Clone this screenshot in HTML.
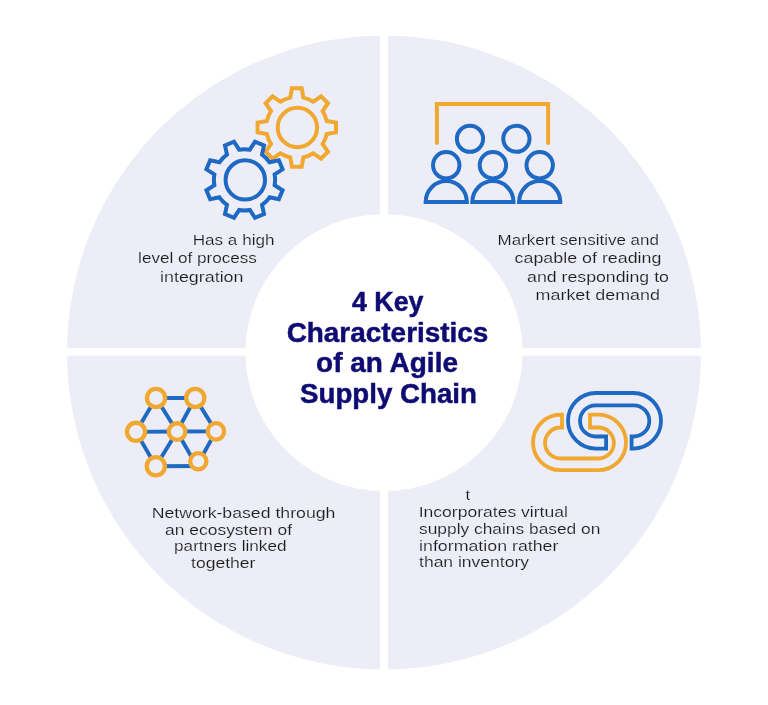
<!DOCTYPE html>
<html lang="en"><head><meta charset="utf-8"><title>4 Key Characteristics of an Agile Supply Chain</title>
<style>html,body{margin:0;padding:0;background:#fff}body{width:768px;height:705px;overflow:hidden}svg{display:block;will-change:transform}text{font-family:"Liberation Sans",sans-serif}.b{font-size:15.5px;fill:#1C1C20;stroke:#ECEDF6;stroke-width:0.16px}.t{font-size:28px;font-weight:700;fill:#0E0C72;stroke:#0E0C72;stroke-width:0.5px}</style>
</head><body>
<svg width="768" height="705" viewBox="0 0 768 705">
<rect width="768" height="705" fill="#fff"/>
<circle cx="384" cy="352.5" r="317" fill="#ECEDF6"/>
<circle cx="384" cy="352.5" r="138.6" fill="#fff"/>
<rect x="380" y="30" width="8" height="645" fill="#fff"/>
<rect x="60" y="348.2" width="648" height="7.5" fill="#fff"/>
<g fill="none" stroke-width="4.0" stroke-linejoin="miter">
<path d="M290.23 97.61 L291.92 88.30 L301.68 88.30 L303.37 97.61 A30.60 30.60 0 0 1 313.29 101.72 L321.06 96.33 L327.97 103.24 L322.58 111.01 A30.60 30.60 0 0 1 326.69 120.93 L336.00 122.62 L336.00 132.38 L326.69 134.07 A30.60 30.60 0 0 1 322.58 143.99 L327.97 151.76 L321.06 158.67 L313.29 153.28 A30.60 30.60 0 0 1 303.37 157.39 L301.68 166.70 L291.92 166.70 L290.23 157.39 A30.60 30.60 0 0 1 280.31 153.28 L272.54 158.67 L265.63 151.76 L271.02 143.99 A30.60 30.60 0 0 1 266.91 134.07 L257.60 132.38 L257.60 122.62 L266.91 120.93 A30.60 30.60 0 0 1 271.02 111.01 L265.63 103.24 L272.54 96.33 L280.31 101.72 A30.60 30.60 0 0 1 290.23 97.61 Z" stroke="#F0A830"/>
<circle cx="297.4" cy="127.5" r="19.7" stroke="#F0A830"/>
<path d="M249.87 149.67 L254.99 141.72 L264.01 145.45 L262.01 154.70 A30.60 30.60 0 0 1 269.60 162.29 L278.85 160.29 L282.58 169.31 L274.63 174.43 A30.60 30.60 0 0 1 274.63 185.17 L282.58 190.29 L278.85 199.31 L269.60 197.31 A30.60 30.60 0 0 1 262.01 204.90 L264.01 214.15 L254.99 217.88 L249.87 209.93 A30.60 30.60 0 0 1 239.13 209.93 L234.01 217.88 L224.99 214.15 L226.99 204.90 A30.60 30.60 0 0 1 219.40 197.31 L210.15 199.31 L206.42 190.29 L214.37 185.17 A30.60 30.60 0 0 1 214.37 174.43 L206.42 169.31 L210.15 160.29 L219.40 162.29 A30.60 30.60 0 0 1 226.99 154.70 L224.99 145.45 L234.01 141.72 L239.13 149.67 A30.60 30.60 0 0 1 249.87 149.67 Z" stroke="#1E69C3"/>
<circle cx="245.3" cy="179.9" r="19.7" stroke="#1E69C3"/>
</g>
<g fill="none" stroke-width="4">
<path d="M436.9 142.9 V104 H548.1 V142.9" stroke="#F0A830" stroke-linecap="round" stroke-linejoin="miter"/>
<g stroke="#1E69C3">
<circle cx="470" cy="138.75" r="13.1"/>
<circle cx="516.4" cy="138.75" r="13.1"/>
<circle cx="446.25" cy="165.2" r="13.2" fill="#ECEDF6"/>
<path d="M425.65 202.1 A20.6 21 0 0 1 466.85 202.1 Z" stroke-linejoin="miter"/>
<circle cx="492.9" cy="165.2" r="13.2" fill="#ECEDF6"/>
<path d="M472.30 202.1 A20.6 21 0 0 1 513.50 202.1 Z" stroke-linejoin="miter"/>
<circle cx="539.7" cy="165.2" r="13.2" fill="#ECEDF6"/>
<path d="M519.10 202.1 A20.6 21 0 0 1 560.30 202.1 Z" stroke-linejoin="miter"/>
</g></g>
<g stroke="#1E69C3" stroke-width="3.9" fill="none">
<line x1="156.05" y1="397.95" x2="195.25" y2="397.95"/>
<line x1="156.05" y1="397.95" x2="136.05" y2="431.85"/>
<line x1="156.05" y1="397.95" x2="177.05" y2="431.55"/>
<line x1="195.25" y1="397.95" x2="177.05" y2="431.55"/>
<line x1="195.25" y1="397.95" x2="215.95" y2="431.35"/>
<line x1="136.05" y1="431.85" x2="177.05" y2="431.55"/>
<line x1="177.05" y1="431.55" x2="215.95" y2="431.35"/>
<line x1="136.05" y1="431.85" x2="155.85" y2="466.25"/>
<line x1="177.05" y1="431.55" x2="155.85" y2="466.25"/>
<line x1="177.05" y1="431.55" x2="196.65" y2="466.05"/>
<line x1="215.95" y1="431.35" x2="196.65" y2="466.05"/>
<line x1="155.85" y1="466.25" x2="196.65" y2="466.05"/>
</g>
<g stroke="#F0A830" stroke-width="4.3" fill="#ECEDF6">
<circle cx="156.05" cy="397.95" r="9.1"/>
<circle cx="195.25" cy="397.95" r="9.1"/>
<circle cx="136.05" cy="431.85" r="9.1"/>
<circle cx="177.05" cy="431.55" r="8.3"/>
<circle cx="215.95" cy="431.35" r="8.2"/>
<circle cx="155.85" cy="466.25" r="9.1"/>
<circle cx="198.30" cy="461.30" r="8.1"/>
</g>
<g fill="none" stroke-width="3.8" stroke-linejoin="miter">
<path d="M562.00 414.70 L560.75 414.70 A27.75 27.75 0 0 0 560.75 470.20 L598.25 470.20 A27.75 27.75 0 0 0 598.25 414.70 L590.00 414.70 L590.00 427.50 L598.40 427.50 A15.50 15.50 0 0 1 598.40 458.50 L560.50 458.50 A15.50 15.50 0 0 1 560.50 427.50 L562.00 427.50 Z" stroke="#F0A830"/>
<path d="M606.10 448.60 L595.80 448.60 A27.80 27.80 0 0 1 595.80 393.00 L633.20 393.00 A27.80 27.80 0 0 1 633.20 448.60 L631.60 448.60 L631.60 436.50 L633.70 436.50 A15.60 15.60 0 0 0 633.70 405.30 L595.60 405.30 A15.60 15.60 0 0 0 595.60 436.50 L606.10 436.50 Z" stroke="#1E69C3"/>
</g>
<text class="b" x="192.70" y="244.60" textLength="81.80" lengthAdjust="spacingAndGlyphs">Has a high</text>
<text class="b" x="138.14" y="263.30" textLength="118.81" lengthAdjust="spacingAndGlyphs">level of process</text>
<text class="b" x="160.08" y="282.00" textLength="83.39" lengthAdjust="spacingAndGlyphs">integration</text>
<text class="b" x="497.62" y="244.80" textLength="161.34" lengthAdjust="spacingAndGlyphs">Markert sensitive and</text>
<text class="b" x="514.60" y="263.40" textLength="146.82" lengthAdjust="spacingAndGlyphs">capable of reading</text>
<text class="b" x="527.06" y="282.20" textLength="141.88" lengthAdjust="spacingAndGlyphs">and responding to</text>
<text class="b" x="535.60" y="300.00" textLength="124.37" lengthAdjust="spacingAndGlyphs">market demand</text>
<text class="b" x="151.66" y="518.00" textLength="183.73" lengthAdjust="spacingAndGlyphs">Network-based through</text>
<text class="b" x="165.10" y="534.50" textLength="126.89" lengthAdjust="spacingAndGlyphs">an ecosystem of</text>
<text class="b" x="174.10" y="551.40" textLength="112.35" lengthAdjust="spacingAndGlyphs">partners linked</text>
<text class="b" x="191.04" y="568.00" textLength="64.43" lengthAdjust="spacingAndGlyphs">together</text>
<text class="b" x="465.52" y="500.40" textLength="4.60" lengthAdjust="spacingAndGlyphs">t</text>
<text class="b" x="418.68" y="517.40" textLength="149.22" lengthAdjust="spacingAndGlyphs">Incorporates virtual</text>
<text class="b" x="419.06" y="534.10" textLength="181.36" lengthAdjust="spacingAndGlyphs">supply chains based on</text>
<text class="b" x="419.08" y="550.70" textLength="139.36" lengthAdjust="spacingAndGlyphs">information rather</text>
<text class="b" x="419.06" y="567.00" textLength="109.94" lengthAdjust="spacingAndGlyphs">than inventory</text>
<text class="t" x="352.04" y="310.70" textLength="71.43" lengthAdjust="spacingAndGlyphs">4 Key</text>
<text class="t" x="286.64" y="341.80" textLength="201.78" lengthAdjust="spacingAndGlyphs">Characteristics</text>
<text class="t" x="316.08" y="372.40" textLength="141.87" lengthAdjust="spacingAndGlyphs">of an Agile</text>
<text class="t" x="300.02" y="402.90" textLength="176.89" lengthAdjust="spacingAndGlyphs">Supply Chain</text>
</svg></body></html>
